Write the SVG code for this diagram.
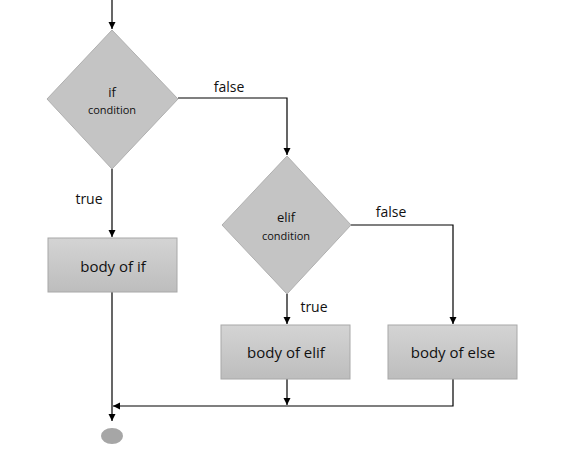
<svg xmlns="http://www.w3.org/2000/svg" width="580" height="464" viewBox="0 0 580 464">
<defs>
<linearGradient id="g" x1="0" y1="0" x2="0" y2="1"><stop offset="0" stop-color="#d4d4d4"/><stop offset="1" stop-color="#bdbdbd"/></linearGradient>
<marker id="a" viewBox="0 0 10 10" refX="10" refY="5" markerWidth="6" markerHeight="6" orient="auto"><path d="M0,0 L10,5 L0,10 z" fill="#000"/></marker>
</defs>
<style>
.d{fill:#c4c4c4;stroke:#b0b0b0;stroke-width:1}
.b{fill:url(#g);stroke:#a8a8a8;stroke-width:1}
.c{fill:none;stroke:#000;stroke-width:1.2}
text{font-family:"Open Sans","Liberation Sans",sans-serif;fill:#111;text-anchor:middle}
.t{font-size:15px}
.s{font-size:11px}
.m{font-size:13px}
.l{font-size:14px}
</style>
<rect width="580" height="464" fill="#fff"/>
<g id="connectors">
<path class="c" d="M112,0 V29" marker-end="url(#a)"/>
<path class="c" d="M178,98 H287 V155" marker-end="url(#a)"/>
<path class="c" d="M112,169 V237" marker-end="url(#a)"/>
<path class="c" d="M112,292 V421" marker-end="url(#a)"/>
<path class="c" d="M350,225 H453 V324" marker-end="url(#a)"/>
<path class="c" d="M287,294 V324" marker-end="url(#a)"/>
<path class="c" d="M287,379 V405" marker-end="url(#a)"/>
<path class="c" d="M453,379 V406 H113" marker-end="url(#a)"/>
<text class="l" x="229" y="92">false</text>
<text class="l" x="89" y="204">true</text>
<text class="l" x="391" y="217">false</text>
<text class="l" x="314" y="312">true</text>
</g>
<g id="if">
<polygon class="d" points="112,30 178,99 112,169 47,99"/>
<text class="m" x="112" y="97">if</text>
<text class="s" x="112" y="114">condition</text>
</g>
<g id="elif">
<polygon class="d" points="287,156 351,225 287,294 222,225"/>
<text class="m" x="286" y="222">elif</text>
<text class="s" x="286" y="240">condition</text>
</g>
<g id="bodyif">
<rect class="b" x="48" y="238" width="129" height="54"/>
<text class="t" x="113" y="272">body of if</text>
</g>
<g id="bodyelif">
<rect class="b" x="221" y="325" width="129" height="54"/>
<text class="t" x="286" y="358">body of elif</text>
</g>
<g id="bodyelse">
<rect class="b" x="388" y="325" width="129" height="54"/>
<text class="t" x="453" y="358">body of else</text>
</g>
<g id="end">
<ellipse cx="112" cy="436" rx="11" ry="8" fill="#a6a6a6"/>
</g>
</svg>
